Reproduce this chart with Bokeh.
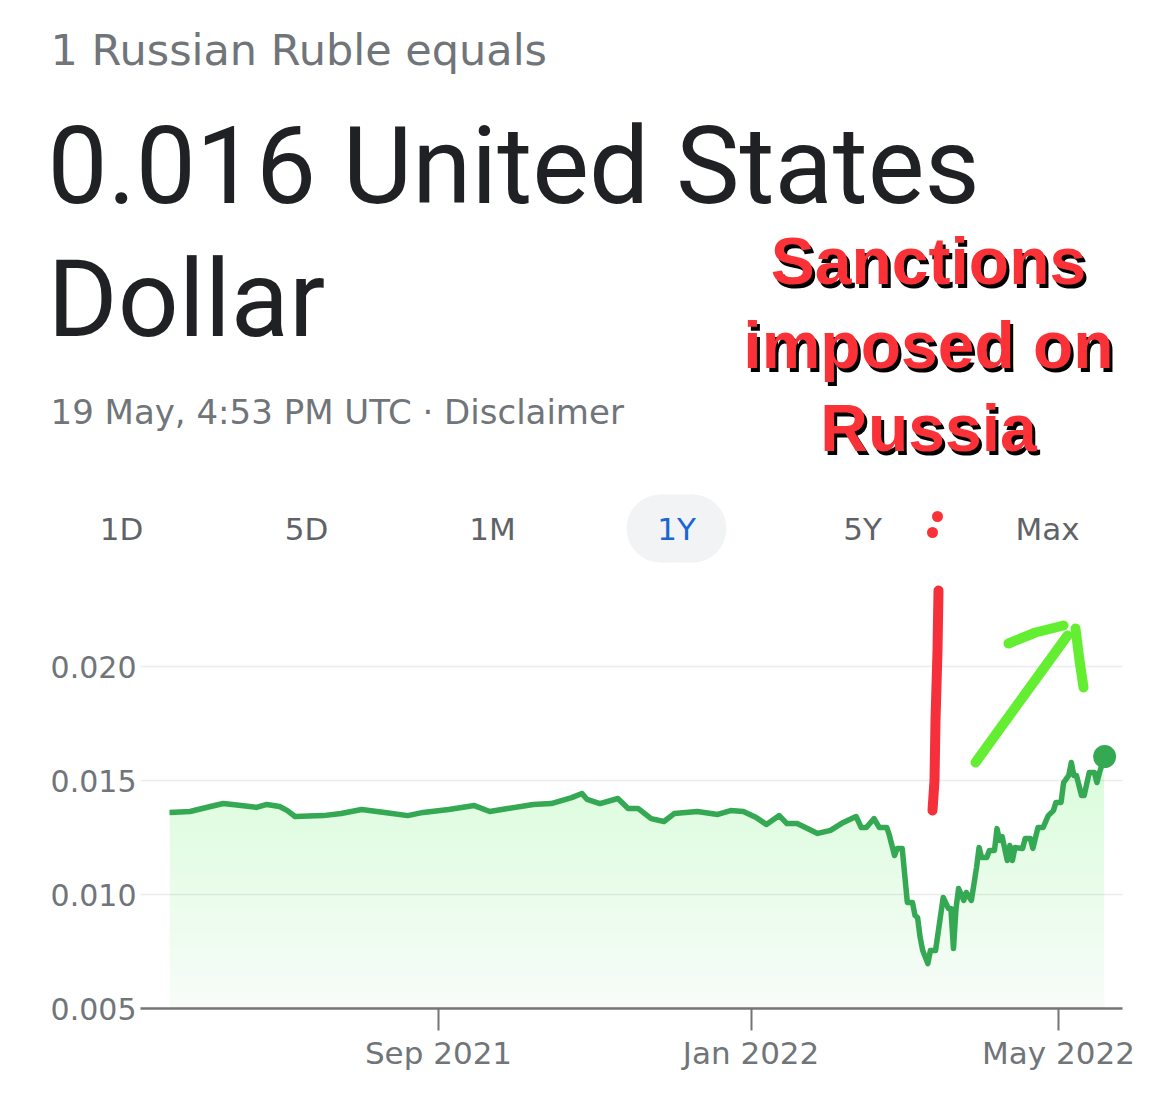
import numpy as np
import pandas as pd
from bokeh.plotting import figure
from bokeh.models import Range1d, FixedTicker, NumeralTickFormatter, DatetimeTickFormatter, Label
from bokeh.embed import file_html
from bokeh.resources import INLINE

# ---------------- data ----------------
dates = [
    "2021-05-19", "2021-05-27", "2021-06-04", "2021-06-09", "2021-06-16", "2021-06-22", "2021-06-26",
    "2021-07-01", "2021-07-04", "2021-07-07", "2021-07-18", "2021-07-25", "2021-08-02", "2021-08-11",
    "2021-08-20", "2021-08-26", "2021-09-05", "2021-09-15", "2021-09-21", "2021-09-28", "2021-10-08",
    "2021-10-15", "2021-10-23", "2021-10-27", "2021-10-29", "2021-11-03", "2021-11-10", "2021-11-14",
    "2021-11-18", "2021-11-23", "2021-11-28", "2021-12-02", "2021-12-11", "2021-12-19", "2021-12-24",
    "2021-12-29", "2022-01-03", "2022-01-07", "2022-01-12", "2022-01-15", "2022-01-19", "2022-01-27",
    "2022-02-01", "2022-02-06", "2022-02-11", "2022-02-13", "2022-02-15", "2022-02-18", "2022-02-20",
    "2022-02-23", "2022-02-24", "2022-02-26", "2022-02-27", "2022-03-01", "2022-03-03", "2022-03-05",
    "2022-03-06", "2022-03-07", "2022-03-08", "2022-03-09", "2022-03-11", "2022-03-12", "2022-03-14",
    "2022-03-17", "2022-03-19", "2022-03-20", "2022-03-21", "2022-03-22", "2022-03-23", "2022-03-25",
    "2022-03-26", "2022-03-28", "2022-03-30", "2022-03-31", "2022-04-01", "2022-04-03", "2022-04-04",
    "2022-04-06", "2022-04-07", "2022-04-08", "2022-04-09", "2022-04-11", "2022-04-12", "2022-04-13",
    "2022-04-14", "2022-04-17", "2022-04-18", "2022-04-20", "2022-04-21", "2022-04-23", "2022-04-25",
    "2022-04-27", "2022-04-29", "2022-04-30", "2022-05-02", "2022-05-03", "2022-05-05", "2022-05-06",
    "2022-05-07", "2022-05-08", "2022-05-10", "2022-05-11", "2022-05-13", "2022-05-15", "2022-05-16",
    "2022-05-17", "2022-05-19",
]
rates = [
    0.01360, 0.01364, 0.01386, 0.01399, 0.01390, 0.01382, 0.01395, 0.01386, 0.01368, 0.01342,
    0.01346, 0.01355, 0.01373, 0.01360, 0.01346, 0.01360, 0.01373, 0.01390, 0.01364, 0.01377,
    0.01395, 0.01399, 0.01425, 0.01443, 0.01417, 0.01399, 0.01421, 0.01377, 0.01377, 0.01333,
    0.01320, 0.01355, 0.01364, 0.01351, 0.01368, 0.01364, 0.01338, 0.01307, 0.01346, 0.01311,
    0.01311, 0.01268, 0.01281, 0.01316, 0.01342, 0.01294, 0.01294, 0.01333, 0.01294, 0.01294,
    0.01259, 0.01171, 0.01202, 0.01202, 0.00965, 0.00965, 0.00908, 0.00899, 0.00811, 0.00754,
    0.00697, 0.00754, 0.00754, 0.00987, 0.00939, 0.00939, 0.00763, 0.00939, 0.01026, 0.00974,
    0.01009, 0.00974, 0.01118, 0.01206, 0.01162, 0.01162, 0.01193, 0.01193, 0.01289, 0.01237,
    0.01254, 0.01149, 0.01215, 0.01149, 0.01206, 0.01202, 0.01246, 0.01246, 0.01202, 0.01294,
    0.01294, 0.01346, 0.01368, 0.01404, 0.01404, 0.01491, 0.01522, 0.01579, 0.01522, 0.01522,
    0.01434, 0.01434, 0.01535, 0.01535, 0.01491, 0.01535, 0.01605,
]
y_ticks = [0.005, 0.010, 0.015, 0.020]
x_tick_dates = ["2021-09-01", "2022-01-01", "2022-05-01"]

header_title = "1 Russian Ruble equals"
headline_lines = ["0.016 United States", "Dollar"]
timestamp_text = "19 May, 4:53 PM UTC \u00b7 Disclaimer"
range_tabs = ["1D", "5D", "1M", "1Y", "5Y", "Max"]
selected_tab = "1Y"
annotation_lines = ["Sanctions", "imposed on", "Russia"]

# ---------------- styles ----------------
GREEN = "#34a853"
GRAY_TEXT = "#70757a"
TAB_GRAY = "#5f6368"
BLUE = "#1967d2"
DARK = "#202124"
RED = "#fa3237"
MARKER_GREEN = "#64ee32"

W = 1170
H = 1105
PLOT_L, PLOT_R, PLOT_B = 140, 1122, 1008

# axis mapping (pixel positions of ticks)
sept = pd.Timestamp("2021-09-01")
px_per_day = (1058 - 438) / 242.0
val_per_px = 0.015 / (1008 - 666)


def x_at(px):
    return sept + pd.Timedelta(days=(px - 438) / px_per_day)


def ms(ts):
    return ts.value / 1e6


y_bottom = 0.005 - (H - PLOT_B) * val_per_px
y_top = 0.005 + PLOT_B * val_per_px

p = figure(width=W, height=H, x_axis_type="datetime",
           x_range=Range1d(x_at(0), x_at(W)), y_range=Range1d(y_bottom, y_top),
           min_border_left=0, min_border_right=0, min_border_top=0, min_border_bottom=0,
           toolbar_location=None, output_backend="svg", outline_line_color=None,
           background_fill_color="white", border_fill_color="white")

# page-pixel coordinate system for the header and hand-drawn marks
p.extra_x_ranges = {"px": Range1d(0, W)}
p.extra_y_ranges = {"px": Range1d(H, 0)}


def label(x, baseline, text, font, size, color, align="left", style="normal"):
    # Label anchors its text box at the middle of the em box
    p.add_layout(Label(x=x, y=baseline - 0.345 * size, x_range_name="px", y_range_name="px",
                       text=text, text_font=font, text_font_size=f"{size}px", text_color=color,
                       text_align=align, text_baseline="alphabetic", text_font_style=style))


# ---------------- header ----------------
label(50, 64, header_title, "DejaVu Sans", 43, GRAY_TEXT)
label(47, 203, headline_lines[0], "Roboto", 107, DARK)
label(47, 336, headline_lines[1], "Roboto", 107, DARK)
label(50, 423, timestamp_text, "DejaVu Sans", 34, GRAY_TEXT)

tab_x = [121, 306, 492, 676, 862, 1047]
pill_c = tab_x[range_tabs.index(selected_tab)]
p.quad(left=[pill_c - 16], right=[pill_c + 16], top=[494], bottom=[562],
       x_range_name="px", y_range_name="px", fill_color="#f1f3f4", line_color=None)
p.scatter(x=[pill_c - 16, pill_c + 16], y=[528, 528], size=68, marker="circle",
          x_range_name="px", y_range_name="px", fill_color="#f1f3f4", line_color=None)
for tx, t in zip(tab_x, range_tabs):
    label(tx, 539, t, "DejaVu Sans", 31, BLUE if t == selected_tab else TAB_GRAY, align="center")

ann_base = [283, 367, 450]
for yy, t in zip(ann_base, annotation_lines):
    label(931, yy + 4, t, "Liberation Sans", 66, "black", align="center", style="bold")
for yy, t in zip(ann_base, annotation_lines):
    label(928, yy, t, "Liberation Sans", 66, RED, align="center", style="bold")
p.scatter(x=[937, 932], y=[516, 532], size=11, marker="circle", x_range_name="px",
          y_range_name="px", fill_color=RED, line_color=None)

# ---------------- chart ----------------
xs = pd.to_datetime(dates)
vals = np.array(rates)

# horizontal grid lines limited to the plotting area
grid_vals = y_ticks[1:]
p.segment(x0=[x_at(PLOT_L)] * len(grid_vals), x1=[x_at(PLOT_R)] * len(grid_vals),
          y0=grid_vals, y1=grid_vals, line_color="#ececec", line_width=1.5)

base = y_ticks[0]
p.varea(x=xs, y1=base, y2=vals, fill_color=GREEN, fill_alpha=0.035)
n_layers = 30
top = vals.max()
for k in range(n_layers):
    lo = base + (top - base) * k / n_layers
    p.varea(x=xs, y1=lo, y2=np.maximum(vals, lo), fill_color=GREEN, fill_alpha=0.0052)

p.line(x=xs, y=vals, line_color=GREEN, line_width=5.5, line_join="round")
p.scatter(x=[xs[-1]], y=[vals[-1]], size=23, marker="circle", fill_color=GREEN, line_color=None)

xa = p.xaxis[0]
xa.fixed_location = base
xa.ticker = FixedTicker(ticks=[ms(pd.Timestamp(d)) for d in x_tick_dates])
fmt = "%b %Y"
xa.formatter = DatetimeTickFormatter(microseconds=fmt, milliseconds=fmt, seconds=fmt, minsec=fmt,
                                     minutes=fmt, hourmin=fmt, hours=fmt, days=fmt, months=fmt,
                                     years=fmt)
xa.bounds = (ms(x_at(PLOT_L)), ms(x_at(PLOT_R)))
xa.axis_line_color = "#757575"
xa.axis_line_width = 2.5
xa.major_tick_line_color = "#757575"
xa.major_tick_line_width = 2
xa.major_tick_in = 0
xa.major_tick_out = 22
xa.minor_tick_line_color = None
xa.major_label_standoff = 4
xa.major_label_text_font = "DejaVu Sans"
xa.major_label_text_font_size = "31px"
xa.major_label_text_color = GRAY_TEXT

ya = p.yaxis[0]
ya.fixed_location = ms(x_at(PLOT_L))
ya.ticker = FixedTicker(ticks=y_ticks)
ya.formatter = NumeralTickFormatter(format="0.000")
ya.axis_line_color = None
ya.major_tick_line_color = None
ya.minor_tick_line_color = None
ya.major_tick_in = 0
ya.major_tick_out = 0
ya.major_label_standoff = 4
ya.major_label_text_font = "DejaVu Sans"
ya.major_label_text_font_size = "30px"
ya.major_label_text_color = GRAY_TEXT

p.xgrid.visible = False
p.ygrid.visible = False

# hand-drawn marks
p.line(x=[938, 937, 935, 934, 932], y=[590, 650, 720, 780, 810], x_range_name="px",
       y_range_name="px", line_color="#f5303a", line_width=10, line_cap="round", line_join="round")
p.line(x=[975, 1067], y=[762, 635], x_range_name="px", y_range_name="px",
       line_color=MARKER_GREEN, line_width=10, line_cap="round")
p.line(x=[1008, 1035, 1063], y=[643, 632, 625], x_range_name="px", y_range_name="px",
       line_color=MARKER_GREEN, line_width=10, line_cap="round", line_join="round")
p.line(x=[1075, 1079, 1083], y=[628, 660, 687], x_range_name="px", y_range_name="px",
       line_color=MARKER_GREEN, line_width=10, line_cap="round", line_join="round")

open("out.html", "w").write(file_html(p, INLINE))
